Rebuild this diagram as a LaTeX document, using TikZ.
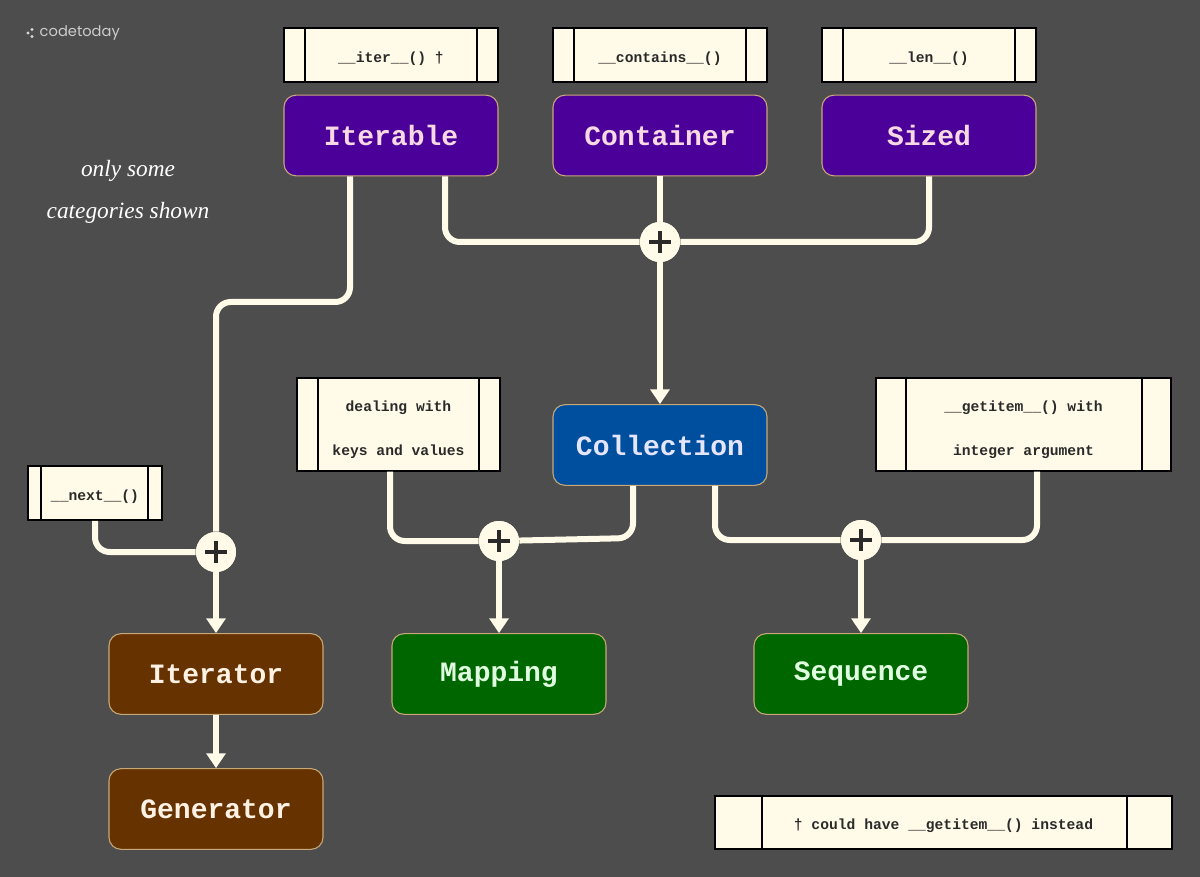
\documentclass[tikz,border=0pt]{standalone}
\usepackage{fontspec}
\setmainfont{Liberation Serif}
\newfontfamily\mono{Liberation Mono}
\newfontfamily\logo{Poppins}
\usetikzlibrary{arrows.meta}
\definecolor{bg}{HTML}{4D4D4D}
\definecolor{cream}{HTML}{FFFBE8}
\definecolor{purp}{HTML}{4B0099}
\definecolor{blu}{HTML}{004F9E}
\definecolor{brn}{HTML}{663300}
\definecolor{grn}{HTML}{006600}
\definecolor{bord}{HTML}{C8A878}
\definecolor{ink}{HTML}{2A2A2A}
\begin{document}
\begin{tikzpicture}[x=0.75pt,y=-0.75pt,
  box/.style={draw=bord,line width=0.8pt,rounded corners=9pt,minimum width=160.5pt,minimum height=60.5pt,font=\mono\bfseries\fontsize{21}{21}\selectfont},
  pur/.style={box,fill=purp,text=purple!15!white},
  blue/.style={box,fill=blu,text=blue!10!white},
  brown/.style={box,fill=brn,text=orange!10!white},
  green/.style={box,fill=grn,text=green!12!white},
  note/.style={draw=black,line width=1.2pt,fill=cream,text=ink,align=center,font=\mono\bfseries\fontsize{11}{33}\selectfont},
  ntext/.style={text=ink,align=center,font=\mono\bfseries\fontsize{11}{33}\selectfont},
  wire/.style={draw=cream,line width=4.5pt,rounded corners=11pt},
  arr/.style={wire,-{Triangle[width=14pt,length=11pt]}},
  plus/.style={circle,fill=cream,minimum size=30pt,inner sep=0pt}]
\fill[bg] (0,0) rectangle (1200,877);
% logo
\node[anchor=west,text=white!80!black,font=\logo\fontsize{11}{10}\selectfont] (lg) at (35,33) {codetoday};
\foreach \p in {(28,33),(32,29.5),(32,36.5)} \fill[white!85!black] \p circle (1.3pt);
\node[text=white,font=\itshape\fontsize{17.5}{31}\selectfont,align=center] (cap) at (128,192) {only some\\categories shown};
% top notes
\foreach \n/\x/\t in {n1/391/\_\_iter\_\_() †, n2/660/\_\_contains\_\_(), n3/929/\_\_len\_\_()}{
  \node[note,minimum width=160.5pt,minimum height=40.5pt] (\n) at (\x,55) {};
  \node[ntext] at (\x,59) {\t};
  \draw[black,line width=1.2pt] (\x-86,28) -- (\x-86,82) (\x+86,28) -- (\x+86,82);}
\node[pur] (it) at (391,135.5) {Iterable};
\node[pur] (co) at (660,135.5) {Container};
\node[pur] (si) at (929,135.5) {Sized};
\node[blue] (col) at (660,445) {Collection};
\node[brown] (itr) at (216,674) {Iterator};
\node[brown] (gen) at (216,809) {Generator};
\node[green] (map) at (499,674) {Mapping};
\node[green] (seq) at (861,674) {Sequence};
% mid notes
\node[note,minimum width=152pt,minimum height=69.5pt] (dk) at (398.5,424.5) {};
\node[ntext] at (398.5,430) {dealing with\\keys and values};
\draw[black,line width=1.2pt] (318,378) -- (318,471) (479,378) -- (479,471);
\node[note,minimum width=221pt,minimum height=69.5pt] (gi) at (1023.5,424.5) {};
\node[ntext] at (1023.5,430) {\_\_getitem\_\_() with\\integer argument};
\draw[black,line width=1.2pt] (906,378) -- (906,471) (1142,378) -- (1142,471);
\node[note,minimum width=100.5pt,minimum height=40.5pt] (nx) at (95,493) {};
\node[ntext] at (95,497) {\_\_next\_\_()};
\draw[black,line width=1.2pt] (41,466) -- (41,520) (148,466) -- (148,520);
\node[note,minimum width=342.75pt,minimum height=39.75pt] (fn) at (943.5,822.5) {};
\node[ntext] at (943.5,826) {† could have \_\_getitem\_\_() instead};
\draw[black,line width=1.2pt] (762,796) -- (762,849) (1127,796) -- (1127,849);
% plus nodes
\node[plus] (p1) at (660,242) {};
\node[plus] (p2) at (216,552) {};
\node[plus] (p3) at (499,541) {};
\node[plus] (p4) at (861,540) {};
% wires
\draw[wire] (it.south -| 445,0) |- (p1);
\draw[wire] (si.south) |- (p1);
\draw[wire] (co.south) -- (p1);
\draw[arr] (p1) -- (col.north);
\draw[wire] (it.south -| 350,0) -- (350,302) -- (216,302) -- (p2);
\draw[wire] (nx.south) |- (p2);
\draw[arr] (p2) -- (itr.north);
\draw[arr] (itr) -- (gen);
\draw[wire] (dk.south -| 390,0) |- (p3);
\draw[wire] (col.south -| 633,0) -- (633,538) -- (p3);
\draw[arr] (p3) -- (map.north);
\draw[wire] (col.south -| 715,0) |- (p4);
\draw[wire] (gi.south -| 1037,0) |- (p4);
\draw[arr] (p4) -- (seq.north);
\foreach \q in {p1,p2,p3,p4}{
  \node[plus] at (\q) {};
  \draw[ink,line width=3pt] ([xshift=-8pt]\q.center) -- ([xshift=8pt]\q.center) ([yshift=-8pt]\q.center) -- ([yshift=8pt]\q.center);}
\end{tikzpicture}
\end{document}
